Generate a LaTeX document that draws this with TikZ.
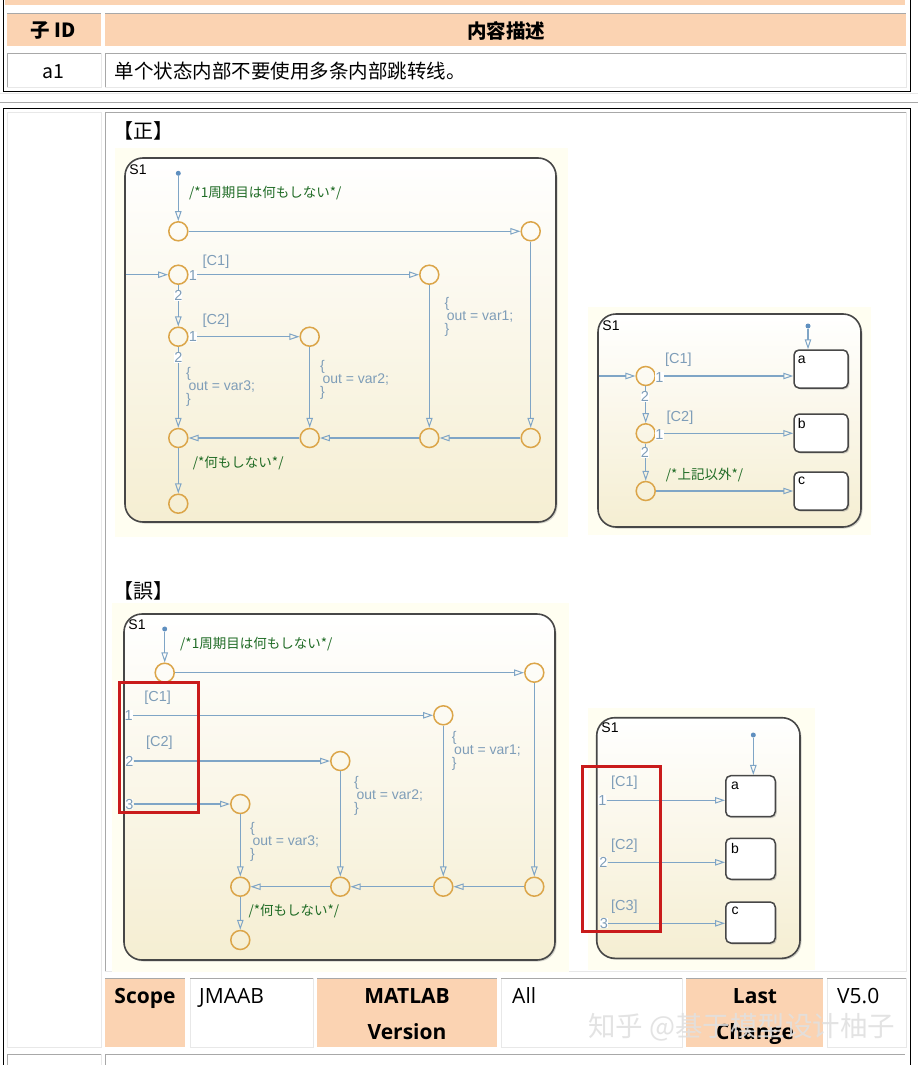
\documentclass[tikz,border=0pt]{standalone}
\usepackage{fontspec}
\usepackage{xcolor}
\usetikzlibrary{arrows.meta,shadows}
\setmainfont{Open Sans}
\newfontfamily\cjk{Noto Sans CJK SC}
\newfontfamily\jpfont{Noto Sans CJK JP}
\newfontfamily\arm{Liberation Sans}
\definecolor{headfill}{HTML}{FBD3B2}
\definecolor{cellgray}{HTML}{A8A8A8}
\definecolor{cellpale}{HTML}{E8E8E8}
\definecolor{panelcream}{HTML}{FFFEF1}
\definecolor{statecream}{HTML}{F5EED2}
\definecolor{junction}{HTML}{DBA549}
\definecolor{flow}{HTML}{7FA5C6}
\definecolor{flowtext}{HTML}{7E9DB8}
\definecolor{commenttext}{HTML}{1F6B25}
\definecolor{markred}{HTML}{C91B1B}
\definecolor{dotblue}{HTML}{5F8FBF}
\begin{document}
\begin{tikzpicture}[x=1pt,y=-1pt,
    headcell/.style={fill=headfill,draw=none},
    paleframe/.style={draw=cellpale,line width=0.8pt},
    edge/.style={draw=cellgray,line width=0.9pt},
    blackframe/.style={draw=black,line width=1pt},
    panel/.style={fill=panelcream,draw=none},
    outerstate/.style={draw=black!72,line width=1.6pt,rounded corners=18pt,top color=white,bottom color=statecream,drop shadow={shadow xshift=1.5pt,shadow yshift=-1.5pt,opacity=.35}},
    substate/.style={draw=black!72,line width=1.5pt,rounded corners=5pt,fill=white,inner sep=0pt,drop shadow={shadow xshift=1.5pt,shadow yshift=-1.5pt,opacity=.35}},
    jn/.style={circle,draw=junction,line width=1.5pt,minimum size=19pt,inner sep=0pt},
    dot/.style={circle,fill=dotblue,minimum size=5pt,inner sep=0pt},
    flowline/.style={draw=flow,line width=1.2pt,-{Triangle[open,length=10pt,width=6.5pt,line width=1pt]}},
    guard/.style={text=flowtext,font=\arm\fontsize{14.5}{16}\selectfont,inner sep=0pt},
    prio/.style={text=flowtext,font=\arm\fontsize{14.5}{16}\selectfont,fill=white,inner sep=0pt},
    action/.style={text=flowtext,font=\arm\fontsize{14}{13.5}\selectfont,align=left,anchor=west,inner sep=0pt},
    comment/.style={text=commenttext,font=\jpfont\fontsize{13.5}{16}\selectfont,anchor=west,inner sep=0pt},
    statename/.style={text=black,font=\arm\fontsize{14}{15}\selectfont,inner sep=0pt},
    cellhead/.style={font=\cjk\bfseries\fontsize{19.5}{22}\selectfont,inner sep=0pt},
    celltext/.style={font=\cjk\fontsize{19.5}{22}\selectfont,inner sep=0pt},
    scopehead/.style={font=\bfseries\fontsize{21}{22}\selectfont,inner sep=0pt,anchor=base},
    scopetext/.style={font=\fontsize{21}{22}\selectfont,inner sep=0pt,anchor=base west},
    title/.style={font=\jpfont\fontsize{20}{22}\selectfont,inner sep=0pt,anchor=west},
    redbox/.style={draw=markred,line width=3pt}]
    \useasboundingbox (0,0) rectangle (918,1065);
    \fill[white] (0,0) rectangle (918,1065);
    % table head
    \draw[paleframe] (0,93)--(918,93);
    \draw[edge] (0,102)--(918,102);
    \draw[blackframe] (3,0)--(3,91)--(910,91)--(910,0);
    \draw[blackframe] (3,1065)--(3,108)--(910,108)--(910,1065);
    \fill[headcell] (5,0) rectangle (905,5);
    \fill[headcell] (7,13) rectangle (101,46);
    \fill[headcell] (105,13) rectangle (906,46);
    \draw[edge] (7,13)--(101,13);
    \draw[edge] (105,13)--(906,13);
    \draw[paleframe] (7,53) rectangle (101,87);
    \draw[paleframe] (105,53) rectangle (906,87);
    \draw[edge] (7,87)--(7,53)--(101,53);
    \draw[edge] (105,87)--(105,53)--(906,53);
    \node[cellhead] (idhead) at (53,31) {子 ID};
    \node[cellhead] (deschead) at (506,31) {内容描述};
    \node[celltext] (idone) at (53,72) {a1};
    \node[celltext,anchor=west] (descone) at (114.5,71) {单个状态内部不要使用多条内部跳转线。};
    % big cell
    \draw[paleframe] (7,112) rectangle (101,1047);
    \draw[paleframe] (105,112) rectangle (906,971);
    \draw[edge] (105,971)--(105,112)--(906,112);
    \node[title] (okhead) at (113,131) {【正】};
    \node[title] (nghead) at (113,591) {【誤】};
    % good chart, left
    \fill[panel] (115,148) rectangle (568,537);
    \draw[outerstate] (125,158) rectangle (556,522);
    \coordinate (inA) at (125.5,274.7);
    \node[dot] (dA) at (178.3,173.3) {};
    \node[jn] (jA) at (178.3,231.3) {};
    \node[jn] (jB) at (530.7,231.3) {};
    \node[jn] (jC) at (178.3,274.7) {};
    \node[jn] (jD) at (429.3,274.7) {};
    \node[jn] (jE) at (178.3,336.7) {};
    \node[jn] (jF) at (309.7,336.7) {};
    \node[jn] (jG) at (178.3,438) {};
    \node[jn] (jH) at (309.7,438) {};
    \node[jn] (jI) at (429.3,438) {};
    \node[jn] (jJ) at (530.7,438) {};
    \node[jn] (jK) at (178.3,503.7) {};
    \draw[flowline] (dA)--(jA);
    \draw[flowline] (jA)--(jB);
    \draw[flowline] (inA)--(jC);
    \draw[flowline] (jC)--(jD);
    \draw[flowline] (jC)--(jE);
    \draw[flowline] (jE)--(jF);
    \draw[flowline] (jE)--(jG);
    \draw[flowline] (jF)--(jH);
    \draw[flowline] (jD)--(jI);
    \draw[flowline] (jB)--(jJ);
    \draw[flowline] (jJ)--(jI);
    \draw[flowline] (jI)--(jH);
    \draw[flowline] (jH)--(jG);
    \draw[flowline] (jG)--(jK);
    \node[statename] (nA) at (138,169.5) {S1};
    \node[comment] (cA) at (189,192.7) {/*1周期目は何もしない*/};
    \node[guard] (gA) at (216,261.7) {[C1]};
    \node[prio] (pA) at (193,275.5) {1};
    \node[prio] (pB) at (178.3,295.7) {2};
    \node[guard] (gB) at (216,321) {[C2]};
    \node[prio] (pC) at (193,337) {1};
    \node[prio] (pD) at (178.3,357.7) {2};
    \node[action] (aA) at (444.3,316.7) {\{\\[-0.5pt]\,out = var1;\\[-0.5pt]\}};
    \node[action] (aB) at (320,380) {\{\\[-0.5pt]\,out = var2;\\[-0.5pt]\}};
    \node[action] (aC) at (186,386.7) {\{\\[-0.5pt]\,out = var3;\\[-0.5pt]\}};
    \node[comment] (cB) at (192.7,463.3) {/*何もしない*/};
    % good chart, right
    \fill[panel] (588,307) rectangle (871,535);
    \draw[outerstate] (598,314) rectangle (861,527);
    \coordinate (inB) at (598.5,376);
    \node[substate,minimum width=54pt,minimum height=38pt] (sA) at (821,369) {};
    \node[substate,minimum width=54pt,minimum height=38pt] (sB) at (821,433) {};
    \node[substate,minimum width=54pt,minimum height=38pt] (sC) at (821,491) {};
    \node[dot] (dB) at (808,326) {};
    \node[jn] (kA) at (645.7,376) {};
    \node[jn] (kB) at (645.7,433.3) {};
    \node[jn] (kC) at (645.7,491) {};
    \draw[flowline] (dB)--(dB |- sA.north);
    \draw[flowline] (inB)--(kA);
    \draw[flowline] (kA)--(kA -| sA.west);
    \draw[flowline] (kA)--(kB);
    \draw[flowline] (kB)--(kB -| sB.west);
    \draw[flowline] (kB)--(kC);
    \draw[flowline] (kC)--(kC -| sC.west);
    \node[statename] (nB) at (611,326) {S1};
    \node[statename] (tA) at (801.7,359.3) {a};
    \node[statename] (tB) at (801.7,423.7) {b};
    \node[statename] (tC) at (801.7,481) {c};
    \node[guard] (gC) at (678.3,360) {[C1]};
    \node[prio] (pE) at (659.5,377.3) {1};
    \node[prio] (pF) at (645,396.7) {2};
    \node[guard] (gD) at (680,417.3) {[C2]};
    \node[prio] (pG) at (659.5,434.7) {1};
    \node[prio] (pH) at (645,452.7) {2};
    \node[comment] (cC) at (665.7,475) {/*上記以外*/};
    % bad chart, left
    \fill[panel] (112,603) rectangle (569,972);
    \draw[outerstate] (124,614) rectangle (555,960);
    \node[dot] (dC) at (164.7,629) {};
    \node[jn] (mA) at (164.7,672.7) {};
    \node[jn] (mB) at (534.3,672.7) {};
    \node[jn] (mC) at (443.3,715.3) {};
    \node[jn] (mD) at (340.3,761) {};
    \node[jn] (mE) at (240.3,804) {};
    \node[jn] (mF) at (240.3,886.7) {};
    \node[jn] (mG) at (340.3,886.7) {};
    \node[jn] (mH) at (443.3,886.7) {};
    \node[jn] (mI) at (534.3,886.7) {};
    \node[jn] (mJ) at (240.3,940) {};
    \node[prio] (pI) at (128.7,715.3) {1};
    \node[prio] (pJ) at (129.3,761) {2};
    \node[prio] (pK) at (129.3,804) {3};
    \draw[flowline] (dC)--(mA);
    \draw[flowline] (mA)--(mB);
    \draw[flowline] (pI)--(mC);
    \draw[flowline] (pJ)--(mD);
    \draw[flowline] (pK)--(mE);
    \draw[flowline] (mC)--(mH);
    \draw[flowline] (mD)--(mG);
    \draw[flowline] (mE)--(mF);
    \draw[flowline] (mB)--(mI);
    \draw[flowline] (mI)--(mH);
    \draw[flowline] (mH)--(mG);
    \draw[flowline] (mG)--(mF);
    \draw[flowline] (mF)--(mJ);
    \node[statename] (nC) at (137,625) {S1};
    \node[comment] (cD) at (180,644) {/*1周期目は何もしない*/};
    \node[guard] (gE) at (157.7,697.3) {[C1]};
    \node[guard] (gF) at (159.3,742.7) {[C2]};
    \node[action] (aD) at (451.7,751) {\{\\[-0.5pt]\,out = var1;\\[-0.5pt]\}};
    \node[action] (aE) at (354,795.7) {\{\\[-0.5pt]\,out = var2;\\[-0.5pt]\}};
    \node[action] (aF) at (250,841.7) {\{\\[-0.5pt]\,out = var3;\\[-0.5pt]\}};
    \node[comment] (cE) at (248.3,910.7) {/*何もしない*/};
    \draw[redbox] (119.5,682) rectangle (198.5,812);
    % bad chart, right
    \fill[panel] (588,708) rectangle (815,970);
    \draw[outerstate] (596.7,717.7) rectangle (800,958.3);
    \node[substate,minimum width=49.5pt,minimum height=41pt] (sD) at (750.5,796.2) {};
    \node[substate,minimum width=49.5pt,minimum height=41pt] (sE) at (750.5,858.8) {};
    \node[substate,minimum width=49.5pt,minimum height=41pt] (sF) at (750.5,922.5) {};
    \node[dot] (dD) at (753.3,735) {};
    \node[prio] (pL) at (602.3,800.3) {1};
    \node[prio] (pM) at (603.3,862.3) {2};
    \node[prio] (pN) at (604,923.3) {3};
    \draw[flowline] (dD)--(dD |- sD.north);
    \draw[flowline] (pL)--(pL -| sD.west);
    \draw[flowline] (pM)--(pM -| sE.west);
    \draw[flowline] (pN)--(pN -| sF.west);
    \node[statename] (nD) at (610,728) {S1};
    \node[statename] (tD) at (735,786) {a};
    \node[statename] (tE) at (735,848.3) {b};
    \node[statename] (tF) at (735,911) {c};
    \node[guard] (gG) at (624.3,782.3) {[C1]};
    \node[guard] (gH) at (624.3,845.7) {[C2]};
    \node[guard] (gI) at (624.3,906.7) {[C3]};
    \draw[redbox] (582,766.5) rectangle (660.5,931.5);
    % scope row
    \fill[headcell] (105,978) rectangle (185,1047);
    \fill[headcell] (317,978) rectangle (497,1047);
    \fill[headcell] (686,978) rectangle (823,1047);
    \draw[paleframe] (190,978) rectangle (313,1047);
    \draw[paleframe] (501,978) rectangle (682,1047);
    \draw[paleframe] (827,978) rectangle (906,1047);
    \draw[edge] (105,978)--(185,978);
    \draw[edge] (190,978)--(313,978);
    \draw[edge] (317,978)--(497,978);
    \draw[edge] (501,978)--(682,978);
    \draw[edge] (686,978)--(823,978);
    \draw[edge] (827,978)--(906,978);
    \node[scopehead] (scope) at (145,1003) {Scope};
    \node[scopetext] (jmaab) at (199,1003) {JMAAB};
    \node[scopehead] (matlab) at (407,1003) {MATLAB};
    \node[scopehead] (version) at (407,1039) {Version};
    \node[scopetext] (allv) at (512,1003) {All};
    \node[scopehead] (last) at (755,1003) {Last};
    \node[scopehead] (change) at (755,1039) {Change};
    \node[scopetext] (vfive) at (837,1003) {V5.0};
    % next row
    \draw[paleframe] (7,1054) rectangle (101,1070);
    \draw[edge] (7,1070)--(7,1054)--(101,1054);
    \draw[edge] (105,1070)--(105,1054)--(905,1054);
    % watermark
    \node[font=\cjk\fontsize{27.5}{30}\selectfont,text=black!12!white,opacity=.88,anchor=west,inner sep=0pt] (mark) at (588,1027) {知乎 @基于模型设计柚子};
\end{tikzpicture}
\end{document}
